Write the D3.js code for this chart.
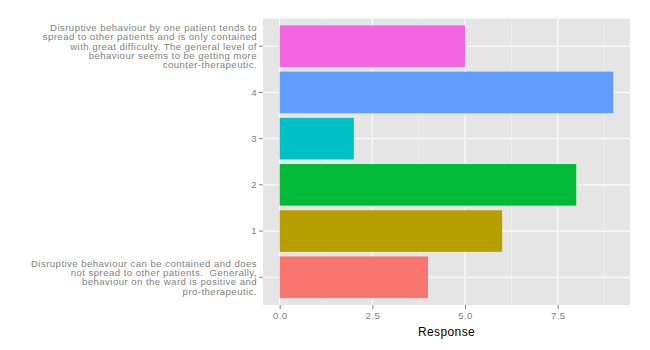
<!DOCTYPE html>
<html>
<head>
<meta charset="utf-8">
<script src="https://cdn.jsdelivr.net/npm/d3@7"></script>
<style>
  html, body { margin: 0; padding: 0; background: #fff; }
  svg { display: block; font-family: "Liberation Sans", Arial, sans-serif; }
</style>
</head>
<body>
<svg id="chart" width="650" height="350"></svg>
<script>
// Rating categories, bottom to top
const categories = [
  "Disruptive behaviour can be contained and does\nnot spread to other patients.  Generally,\nbehaviour on the ward is positive and\npro-therapeutic.",
  "1",
  "2",
  "3",
  "4",
  "Disruptive behaviour by one patient tends to\nspread to other patients and is only contained\nwith great difficulty. The general level of\nbehaviour seems to be getting more\ncounter-therapeutic."
];
// Number of responses per category
const counts = [4, 6, 8, 2, 9, 5];
// Axis ticks for Response
const xTicks = [0, 2.5, 5, 7.5];
const xMinor = [1.25, 3.75, 6.25, 8.75];
// Default hue palette, one colour per category
const palette = ["#F8766D", "#B79F00", "#00BA38", "#00BFC4", "#619CFF", "#F564E3"];

const svg = d3.select("#chart");
const panel = { left: 263, right: 630, top: 18.5, bottom: 305 };

const maxVal = d3.max(counts);
const pad = maxVal * 0.05;
const x = d3.scaleLinear().domain([-pad, maxVal + pad]).range([panel.left, panel.right]);

// Discrete axis: positions 1..n with 0.6 padding either side
const yPos = d3.scaleLinear().domain([0.4, categories.length + 0.6]).range([panel.bottom, panel.top]);
const yOf = (i) => yPos(i + 1);
const barHalf = 0.45;

// Panel background
svg.append("rect")
  .attr("x", panel.left).attr("y", panel.top)
  .attr("width", panel.right - panel.left).attr("height", panel.bottom - panel.top)
  .attr("fill", "#E5E5E5");

// Minor grid
svg.append("g").selectAll("line").data(xMinor).join("line")
  .attr("x1", d => x(d)).attr("x2", d => x(d))
  .attr("y1", panel.top).attr("y2", panel.bottom)
  .attr("stroke", "#F2F2F2").attr("stroke-width", 0.5);

// Major grid
svg.append("g").selectAll("line").data(xTicks).join("line")
  .attr("x1", d => x(d)).attr("x2", d => x(d))
  .attr("y1", panel.top).attr("y2", panel.bottom)
  .attr("stroke", "#FFFFFF").attr("stroke-width", 1);
svg.append("g").selectAll("line").data(categories).join("line")
  .attr("x1", panel.left).attr("x2", panel.right)
  .attr("y1", (d, i) => yOf(i)).attr("y2", (d, i) => yOf(i))
  .attr("stroke", "#FFFFFF").attr("stroke-width", 1);

// Bars
svg.append("g").selectAll("rect").data(counts).join("rect")
  .attr("x", x(0))
  .attr("y", (d, i) => yPos(i + 1 + barHalf))
  .attr("width", d => x(d) - x(0))
  .attr("height", (d, i) => yPos(i + 1 - barHalf) - yPos(i + 1 + barHalf))
  .attr("fill", (d, i) => palette[i]);

// X axis
const xAxis = svg.append("g").attr("transform", `translate(0,${panel.bottom})`)
  .call(d3.axisBottom(x).tickValues(xTicks).tickFormat(d3.format(".1f")).tickSize(4).tickPadding(3));
xAxis.select(".domain").remove();
xAxis.selectAll(".tick line").attr("stroke", "#7F7F7F");
xAxis.selectAll(".tick text").attr("fill", "#7F7F7F").attr("font-size", "9.6px")
  .attr("letter-spacing", "0.4px")
  .attr("font-family", "Liberation Sans, Arial, sans-serif");

// Y axis ticks
const yAxis = svg.append("g");
yAxis.selectAll("line").data(categories).join("line")
  .attr("x1", panel.left - 4).attr("x2", panel.left)
  .attr("y1", (d, i) => yOf(i)).attr("y2", (d, i) => yOf(i))
  .attr("stroke", "#7F7F7F");

// Y tick labels, multi-line, right aligned
const lineH = 9.4;
yAxis.selectAll("text").data(categories).join("text")
  .attr("text-anchor", "end")
  .attr("fill", "#7F7F7F")
  .attr("font-size", "9.6px")
  .attr("letter-spacing", "0.45px")
  .style("white-space", "pre")
  .each(function (d, i) {
    const lines = d.split("\n");
    const t = d3.select(this);
    const y0 = yOf(i) - (lines.length - 1) * lineH / 2;
    lines.forEach((ln, k) => {
      t.append("tspan")
        .attr("x", panel.left - 6)
        .attr("y", y0 + k * lineH)
        .attr("dy", "0.35em")
        .text(ln);
    });
  });

// Axis title
svg.append("text")
  .attr("x", (panel.left + panel.right) / 2)
  .attr("y", 335.5)
  .attr("text-anchor", "middle")
  .attr("font-size", "12px")
  .attr("letter-spacing", "0.4px")
  .attr("fill", "#000")
  .text("Response");
</script>
</body>
</html>
